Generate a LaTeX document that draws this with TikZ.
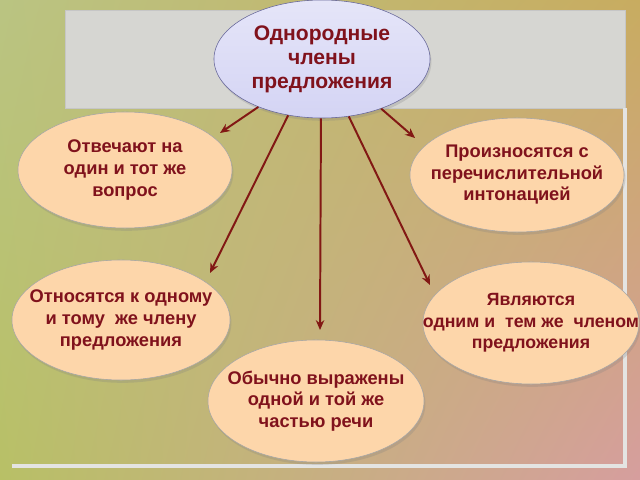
\documentclass[tikz,border=0pt]{standalone}
\usepackage{fontspec}
\setmainfont{Liberation Sans}
\usetikzlibrary{shapes.geometric, arrows.meta, shadows, shadings}
\definecolor{bgtl}{RGB}{186,196,130}
\definecolor{bgtr}{RGB}{200,172,96}
\definecolor{bgbl}{RGB}{184,192,102}
\definecolor{bgbr}{RGB}{214,158,158}
\definecolor{bandgray}{RGB}{214,214,210}
\definecolor{framegray}{RGB}{228,228,226}
\definecolor{peach}{RGB}{253,214,170}
\definecolor{lavender}{RGB}{212,212,244}
\definecolor{textred}{RGB}{128,18,28}
\definecolor{arrowred}{RGB}{130,24,20}
\tikzset{
  topbox/.style={ellipse, draw=gray!80!blue, top color=lavender!60, bottom color=lavender,
                 minimum width=5.4cm, minimum height=2.95cm, inner xsep=-25pt, inner ysep=0pt,
                 align=center, text=textred, font=\fontsize{15}{17}\selectfont\bfseries,
                 drop shadow={opacity=0.25, shadow xshift=1pt, shadow yshift=-2pt}},
  featbox/.style={ellipse, draw=gray!70, fill=peach, minimum width=5.4cm,
                  minimum height=2.95cm, inner xsep=-25pt, inner ysep=0pt, align=center,
                  text=textred, font=\fontsize{13}{15.3}\selectfont\bfseries,
                  drop shadow={opacity=0.25, shadow xshift=1pt, shadow yshift=-2pt}},
  arrow/.style={-{Stealth[length=7pt, width=6pt]}, line width=1.4pt, color=arrowred},
}
\begin{document}
\begin{tikzpicture}[x=0.025cm, y=-0.025cm]
  \useasboundingbox (0,0) rectangle (640,480);

  % Background
  \shade[upper left=bgtl, upper right=bgtr, lower left=bgbl, lower right=bgbr]
    (0,0) rectangle (640,480);
  \fill[bandgray, draw=gray!45] (65,10) rectangle (625,108);
  \draw[framegray, line width=2.8pt] (625,108) -- (625,466) -- (12,466);

  % Centre
  \node[topbox] (top) at (322,59) {Однородные\\члены\\предложения};

  % Features
  \node[featbox, minimum width=5.35cm, minimum height=2.9cm] (answer) at (125,170)
    {Отвечают на\\один и тот же\\вопрос};
  \node[featbox, minimum width=5.35cm, minimum height=2.85cm] (tone) at (517,175)
    {Произносятся с\\перечислительной\\интонацией};
  \node[featbox, minimum width=5.45cm, minimum height=3.0cm] (refer) at (121,320)
    {Относятся к одному\\и тому\ \ же члену\\предложения};
  \node[featbox, minimum width=5.4cm, minimum height=3.05cm,
        font=\fontsize{12.6}{15.3}\selectfont\bfseries] (member) at (531,323)
    {Являются\\одним и\ \ тем же\ \ членом\\предложения};
  \node[featbox, minimum width=5.4cm, minimum height=3.05cm] (speech) at (316,401)
    {Обычно выражены\\одной и той же\\частью речи};

  % Arrow ends
  \coordinate (tipanswer) at (220,133);
  \coordinate (tiprefer) at (210,273);
  \coordinate (tipspeech) at (320,330);
  \coordinate (tipmember) at (430,285);
  \coordinate (tiptone) at (415,138);

  \draw[arrow] (top.217) -- (tipanswer);
  \draw[arrow] (top.239) -- (tiprefer);
  \draw[arrow] (top.269) -- (tipspeech);
  \draw[arrow] (top.295) -- (tipmember);
  \draw[arrow] (top.320) -- (tiptone);
\end{tikzpicture}
\end{document}
